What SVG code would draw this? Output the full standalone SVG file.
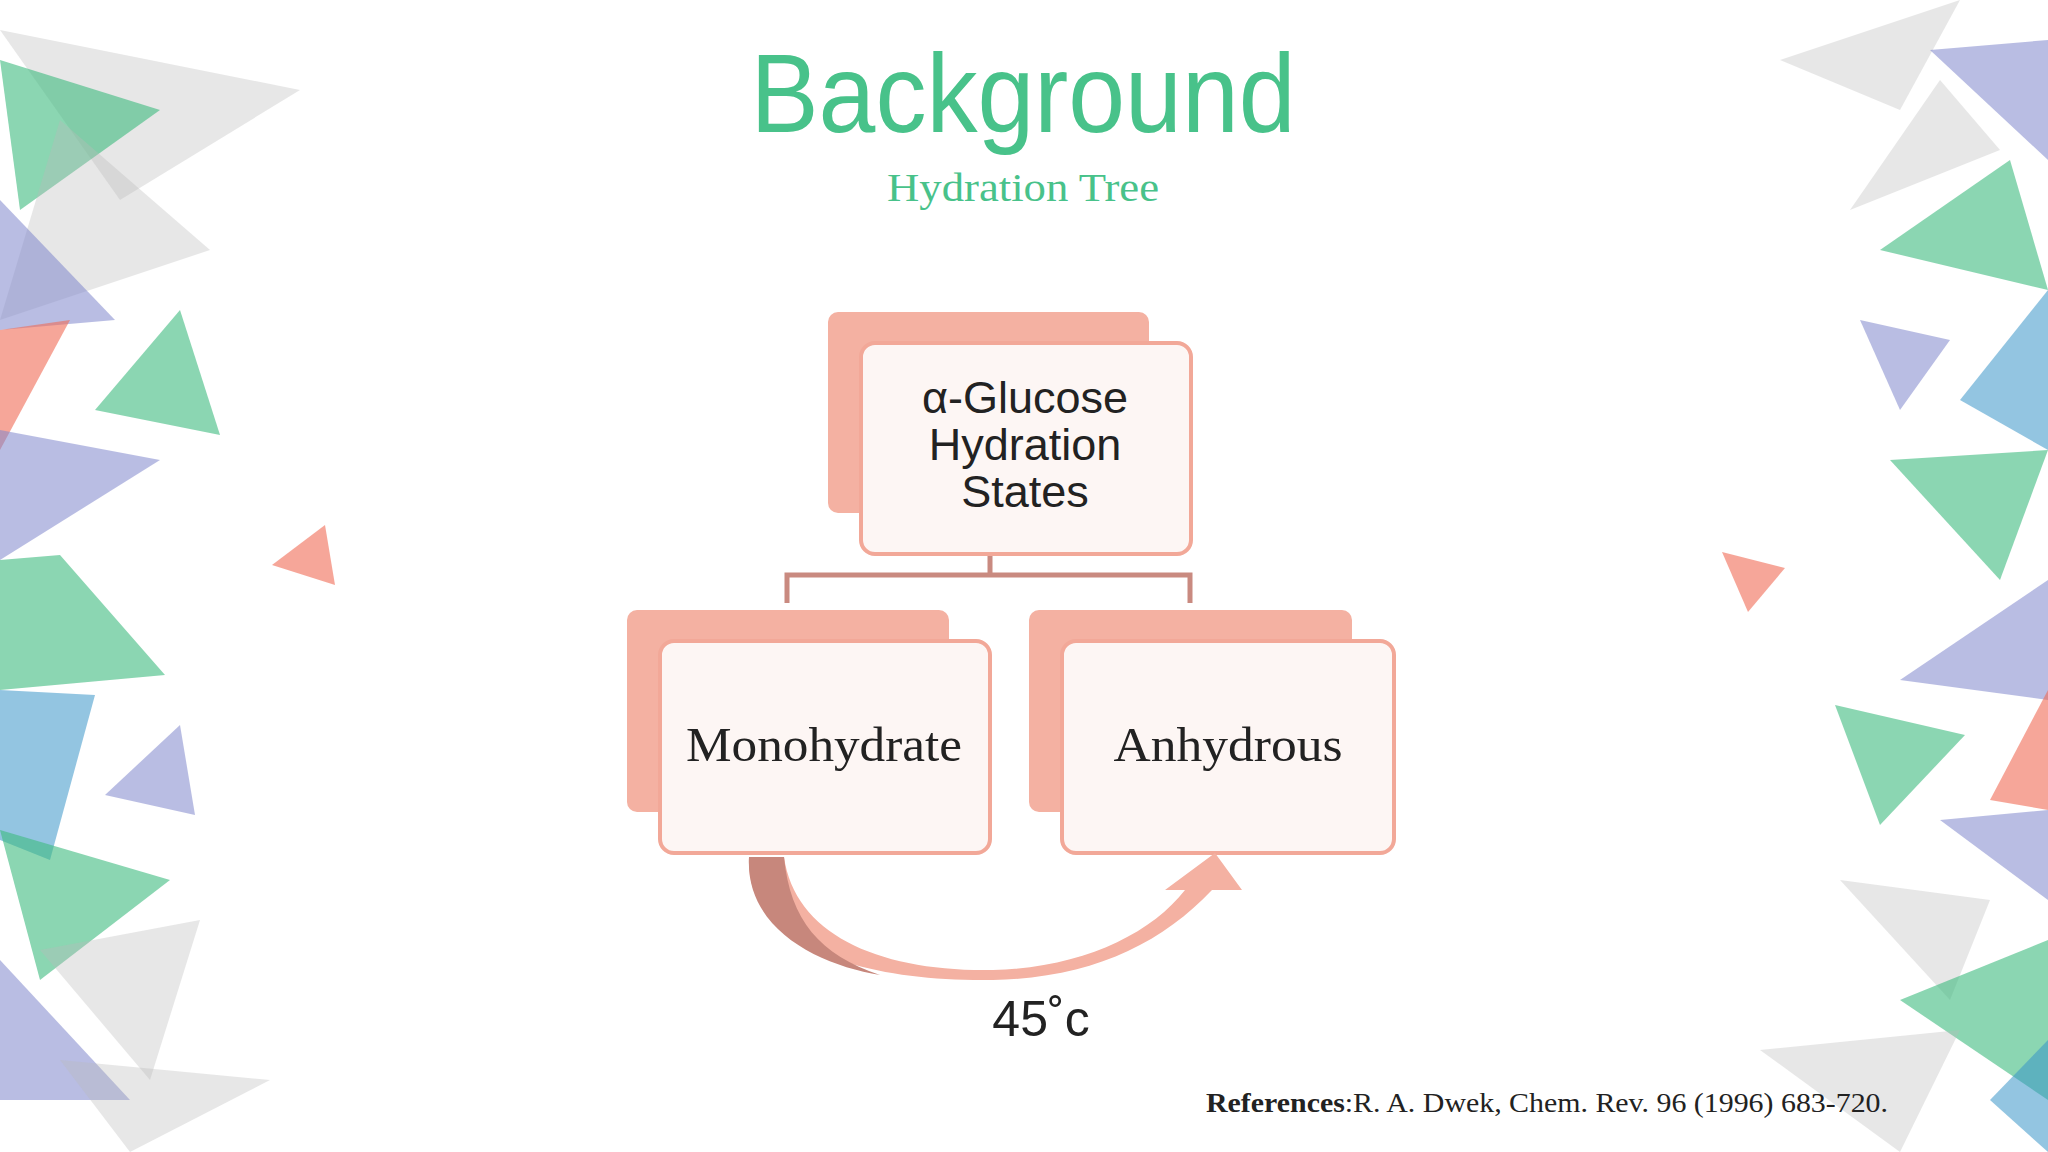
<svg xmlns="http://www.w3.org/2000/svg" width="2048" height="1152" viewBox="0 0 2048 1152">
<style>
.bk{fill:#f4b1a2}
.fr{fill:#fdf6f4;stroke:#f2a898;stroke-width:4}
.nt{font-family:"Liberation Sans",Arial,sans-serif;font-size:45px;fill:#222;text-anchor:middle}
.st{font-family:"Liberation Serif",serif;font-size:48px;fill:#222;text-anchor:middle}
.g{fill:#3dbb7e;opacity:.6}.b{fill:#7f86cc;opacity:.55}.gr{fill:#bbb;opacity:.35}.r{fill:#f06a55;opacity:.6}.c{fill:#3a95c9;opacity:.55}
</style>
<rect width="2048" height="1152" fill="#fff"/>
<g id="decor">
<polygon class="gr" points="0,30 300,90 120,200"/><polygon class="g" points="0,60 160,110 20,210"/>
<polygon class="gr" points="60,120 210,250 0,320"/><polygon class="b" points="0,200 115,320 0,330"/>
<polygon class="r" points="0,330 70,320 0,450"/><polygon class="g" points="95,410 180,310 220,435"/>
<polygon class="b" points="0,430 160,460 0,560"/><polygon class="g" points="0,560 60,555 165,675 0,690"/>
<polygon class="c" points="0,690 95,695 50,860 0,840"/><polygon class="b" points="105,795 180,725 195,815"/>
<polygon class="g" points="0,830 170,880 40,980"/><polygon class="gr" points="40,950 200,920 150,1080"/>
<polygon class="b" points="0,960 130,1100 0,1100"/><polygon class="gr" points="60,1060 270,1080 130,1152"/>
<polygon class="r" points="272,565 325,525 335,585"/>
<polygon class="gr" points="1780,60 1960,0 1900,110"/><polygon class="b" points="1930,50 2048,40 2048,160"/>
<polygon class="gr" points="1850,210 1940,80 2000,150"/><polygon class="g" points="1880,250 2010,160 2048,290"/>
<polygon class="b" points="1860,320 1950,340 1900,410"/><polygon class="c" points="1960,400 2048,290 2048,450"/>
<polygon class="g" points="1890,460 2048,450 2000,580"/><polygon class="b" points="1900,680 2048,580 2048,700"/>
<polygon class="r" points="1722,552 1785,568 1748,612"/><polygon class="g" points="1835,705 1965,735 1880,825"/>
<polygon class="r" points="1990,800 2048,690 2048,810"/><polygon class="b" points="1940,820 2048,810 2048,900"/>
<polygon class="gr" points="1840,880 1990,900 1950,1000"/><polygon class="g" points="1900,1000 2048,940 2048,1100"/>
<polygon class="gr" points="1760,1050 1960,1030 1900,1152"/><polygon class="c" points="1990,1100 2048,1040 2048,1152"/>
</g>
<text x="1023" y="132" font-family="Liberation Sans, Arial, sans-serif" font-size="112" fill="#48c28a" text-anchor="middle" textLength="545" lengthAdjust="spacingAndGlyphs">Background</text>
<text x="1023" y="201" font-family="Liberation Serif, serif" font-size="40" fill="#48c28a" text-anchor="middle" textLength="272" lengthAdjust="spacingAndGlyphs">Hydration Tree</text>
<g id="connectors" fill="none" stroke="#c98a80" stroke-width="5">
<path d="M990,554 V575 M787,603 V575 H1190 V603"/>
</g>
<g id="n-top">
<rect class="bk" x="828" y="312" width="321" height="201" rx="10"/>
<rect class="fr" x="861" y="343" width="330" height="211" rx="14"/>
<text class="nt" x="1025" y="413">α-Glucose</text><text class="nt" x="1025" y="460">Hydration</text><text class="nt" x="1025" y="507">States</text>
</g>
<g id="n-mono">
<rect class="bk" x="627" y="610" width="322" height="202" rx="10"/>
<rect class="fr" x="660" y="641" width="330" height="212" rx="14"/>
<text class="st" x="824" y="761" textLength="276" lengthAdjust="spacingAndGlyphs">Monohydrate</text>
</g>
<g id="n-anhy">
<rect class="bk" x="1029" y="610" width="323" height="202" rx="10"/>
<rect class="fr" x="1062" y="641" width="332" height="212" rx="14"/>
<text class="st" x="1228" y="761" textLength="229" lengthAdjust="spacingAndGlyphs">Anhydrous</text>
</g>
<g id="arrow">
<path d="M749,857 C745,945 860,982 993,980 C1090,978 1160,945 1212,890 L1242,890 L1215,853 L1165,890 L1185,890 C1150,935 1080,968 993,970 C880,972 795,935 784,857 Z" fill="#f4b1a2"/>
<path d="M749,857 C745,930 820,965 880,975 C820,955 790,920 784,857 Z" fill="#c7877c"/>
</g>
<text x="1041" y="1036" font-family="Liberation Sans, Arial, sans-serif" font-size="50" fill="#222" text-anchor="middle">45˚c</text>
<text x="1206" y="1112" font-family="Liberation Serif, serif" font-size="27" fill="#222" textLength="682" lengthAdjust="spacingAndGlyphs"><tspan font-weight="bold">References</tspan>:R. A. Dwek, Chem. Rev. 96 (1996) 683-720.</text>
</svg>
